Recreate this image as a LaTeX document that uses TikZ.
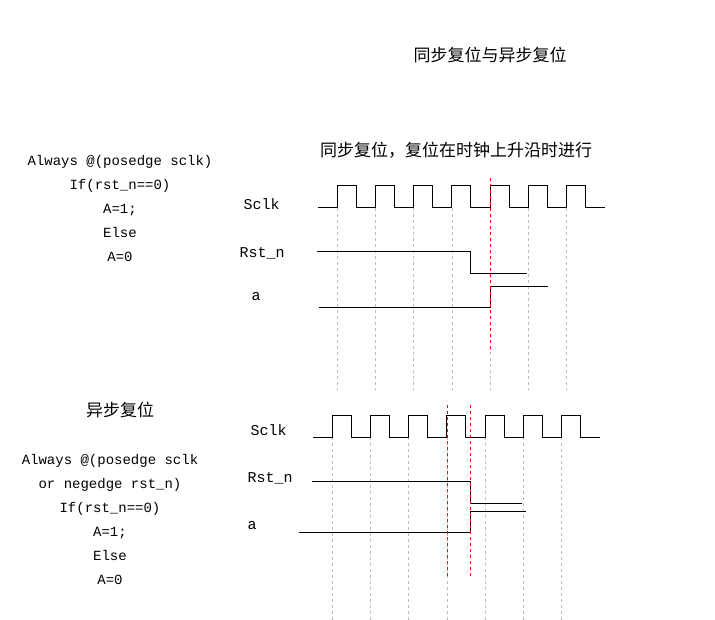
\documentclass[tikz,border=0pt]{standalone}
\usepackage{fontspec}
\setmonofont{Liberation Mono}
\newfontfamily\cjk{Noto Sans CJK SC}
\begin{document}
\begin{tikzpicture}[x=1pt, y=-1pt,
  wave/.style={black, line width=1pt},
  grid/.style={gray!50, dashed, line width=0.8pt},
  redline/.style={red, dashed, line width=1pt},
  code/.style={font=\ttfamily\fontsize{14}{24}\selectfont, align=center},
  sig/.style={font=\ttfamily\fontsize{15}{15}\selectfont, anchor=west},
  zh/.style={font=\cjk\fontsize{17}{17}\selectfont}]
  \useasboundingbox (0,0) rectangle (715,620);

  % Titel
  \node[zh] (title) at (490,55) {同步复位与异步复位};
  \node[zh] (sync) at (456,150) {同步复位，复位在时钟上升沿时进行};

  % Code links
  \node[code] (code1) at (120,208) {Always @(posedge sclk)\\If(rst\_n==0)\\A=1;\\Else\\A=0};
  \node[zh] (async) at (120,410) {异步复位};
  \node[code] (code2) at (110,519) {Always @(posedge sclk\\or negedge rst\_n)\\If(rst\_n==0)\\A=1;\\Else\\A=0};

  % oben: synchron
  \node[sig] (sclk1) at (240,204) {Sclk};
  \node[sig] (rst1) at (236,253) {Rst\_n};
  \node[sig] (a1) at (248,297) {a};
  \foreach \x in {337,375.3,...,568} {
    \draw[grid] (\x,208) -- (\x,390);
  }
  \draw[wave] (318,208)
    \foreach \x in {337,375.3,...,568} { -- (\x,208) -- (\x,186) -- (\x+19,186) -- (\x+19,208) } -- (605,208);
  \draw[wave] (317,252) -- (470,252) -- (470,274) -- (527,274);
  \draw[wave] (319,308) -- (490,308) -- (490,287) -- (548,287);
  \draw[redline] (490,178) -- (490,352);

  % unten: asynchron
  \node[sig] (sclk2) at (247,430) {Sclk};
  \node[sig] (rst2) at (244,478) {Rst\_n};
  \node[sig] (a2) at (244,526) {a};
  \foreach \x in {332,370.3,...,563} {
    \draw[grid] (\x,437) -- (\x,620);
  }
  \draw[wave] (313,437)
    \foreach \x in {332,370.3,...,563} { -- (\x,437) -- (\x,415) -- (\x+19,415) -- (\x+19,437) } -- (600,437);
  \draw[wave] (312,481) -- (470,481) -- (470,503) -- (522,503);
  \draw[wave] (299,532) -- (470,532) -- (470,511) -- (526,511);
  \draw[redline] (447,405) -- (447,578);
  \draw[redline] (470,405) -- (470,577);
\end{tikzpicture}
\end{document}
